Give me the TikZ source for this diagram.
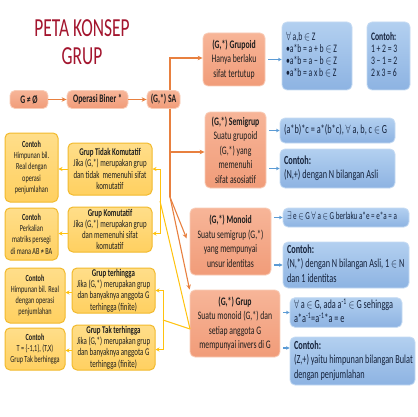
\documentclass[tikz,border=0pt]{standalone}
\usepackage{graphicx}
\usepackage{fontspec}
\setmainfont{Carlito}[FakeStretch=0.67]
\usetikzlibrary{arrows.meta,calc}
\newcommand{\myall}{\scalebox{0.75}[1]{$\forall$}}
\newcommand{\myin}{\scalebox{0.75}[1]{$\in$}}
\newcommand{\myex}{\scalebox{0.75}[1]{$\exists$}}
\newcommand{\lbox}[2]{\makebox[#1][l]{\begin{tabular}{@{}l@{}}#2\end{tabular}}}
\definecolor{titlered}{HTML}{A3152E}
\definecolor{salT}{HTML}{F7B598}
\definecolor{salB}{HTML}{F19C79}
\definecolor{salD}{HTML}{F9CDB8}
\definecolor{bluT}{HTML}{B3D0F0}
\definecolor{bluB}{HTML}{8DB3E2}
\definecolor{bluD}{HTML}{C5DBF3}
\definecolor{yelT}{HTML}{FFDE8A}
\definecolor{yelB}{HTML}{FFD060}
\definecolor{yelD}{HTML}{F2BA2C}
\definecolor{orA}{HTML}{E8803F}
\definecolor{blA}{HTML}{5B9BD5}
\definecolor{yeA}{HTML}{FFC20E}
\definecolor{txt}{HTML}{1E1E1E}
\definecolor{txtb}{HTML}{15223B}
\begin{document}
\begin{tikzpicture}[x=1pt,y=-1pt,
  sal/.style={rounded corners=5pt, top color=salT, bottom color=salB, draw=salD, line width=0.8pt, align=center, inner sep=1pt, text=txt, font=\fontsize{11.5}{14.5}\selectfont},
  blu/.style={rounded corners=5pt, top color=bluT, bottom color=bluB, draw=bluD, line width=0.8pt, inner xsep=4pt, inner ysep=1pt, text=txtb, font=\fontsize{12.3}{14.5}\selectfont},
  yel/.style={rounded corners=5pt, top color=yelT, bottom color=yelB, draw=yelD, line width=1pt, align=center, inner sep=0.5pt, text=txt, font=\fontsize{10.3}{11.2}\selectfont},
  ycon/.style={yel, font=\fontsize{9.3}{11.3}\selectfont},
  sz/.style 2 args={minimum width=#1, minimum height=#2},
  hb/.style={font=\fontsize{11.5}{13}\selectfont\bfseries},
  oarr/.style={draw=orA, line width=1.1pt, -{Stealth[length=5pt,width=4.5pt]}},
  oln/.style={draw=orA, line width=1.1pt},
  barr/.style={draw=blA, line width=1.2pt, -{Stealth[length=3.5pt,width=3.5pt]}, shorten <=3pt},
  yarr/.style={draw=yeA, line width=1pt, -{Stealth[length=4pt,width=4pt]}},
  yln/.style={draw=yeA, line width=1pt}
]
\fill[white] (0,0) rectangle (417,417);
\useasboundingbox (0,0) rectangle (417,417);

\node[font=\fontsize{26}{28}\selectfont, text=titlered, align=center] (title) at (82,42) {PETA KONSEP\\GRUP};

% row 1
\node[sal, sz={38}{18}, hb] (g0) at (29,99.5) {G ≠ Ø};
\node[sal, sz={61}{18}, hb] (biner) at (97.5,99.5) {Operasi Biner *};
\node[sal, sz={33}{18}, hb] (sa) at (163.5,99.5) {(G,*) SA};

% grupoid
\node[sal, sz={62}{53}] (grupoid) at (234,59.5) {\textbf{(G,*) Grupoid}\\Hanya berlaku\\sifat tertutup};
\node[blu, minimum height=68, font=\fontsize{11.5}{11.8}\selectfont] (gblue) at (317,56) {\lbox{62pt}{\myall{} a,b \myin{} Z\\•a*b = a + b \myin{} Z\\•a*b = a − b \myin{} Z\\•a*b = a x b \myin{} Z}};
\node[blu, minimum height=68, font=\fontsize{11.5}{11.8}\selectfont] (gcont) at (388.5,56) {\lbox{35pt}{\textbf{Contoh:}\\1 + 2 = 3\\3 − 1 = 2\\2 x 3 = 6}};

% semigrup
\node[sal, sz={61}{76}] (semi) at (235.5,150) {\textbf{(G,*) Semigrup}\\Suatu grupoid\\(G,*) yang\\memenuhi\\sifat asosiatif};
\node[blu, minimum height=25] (sb1) at (337.5,130.5) {\lbox{107pt}{(a*b)*c = a*(b*c), \myall{} a, b, c \myin{} G}};
\node[blu, minimum height=39] (sb2) at (337.5,168.5) {\lbox{107pt}{\textbf{Contoh:}\\(N,+) dengan N bilangan Asli}};

% monoid
\node[sal, sz={81}{67}] (monoid) at (230.5,241.5) {\textbf{(G,*) Monoid}\\Suatu semigrup (G,*)\\yang mempunyai\\unsur identitas};
\node[blu, minimum height=19, font=\fontsize{10.6}{11}\selectfont] (mb1) at (346,217.5) {\lbox{118pt}{\myex{} e \myin{} G \myall{} a \myin{} G berlaku a*e = e*a = a}};
\node[blu, minimum height=46] (mb2) at (346,265) {\lbox{118pt}{\textbf{Contoh:}\\(N,*) dengan N bilangan Asli, 1 \myin{} $\mathrm{N}$\\dan 1 identitas}};

% grup
\node[sal, sz={90}{67}] (grup) at (235,323.5) {\textbf{(G,*) Grup}\\Suatu monoid (G,*) dan\\setiap anggota G\\mempunyai invers di G};
\node[blu, minimum height=29, font=\fontsize{12.3}{13}\selectfont] (gb1) at (346,312.5) {\lbox{104pt}{\myall{} a \myin{} G, ada a\textsuperscript{-1} \myin{} G sehingga\\a*a\textsuperscript{-1}=a\textsuperscript{-1}*a = e}};
\node[blu, minimum height=48] (gb2) at (352.5,361) {\lbox{117pt}{\textbf{Contoh:}\\(Z,+) yaitu himpunan bilangan Bulat\\dengan penjumlahan}};

% yellow
\node[ycon, sz={53}{69}] (c1) at (31.5,167.5) {\textbf{Contoh}\\Himpunan bil.\\Real dengan\\operasi\\penjumlahan};
\node[yel, sz={84}{52}] (gtk) at (110,169) {\textbf{Grup Tidak Komutatif}\\Jika (G,*) merupakan grup\\dan tidak\ \ memenuhi sifat\\komutatif};
\node[yel, sz={84}{45}] (gk) at (110,229.5) {\textbf{Grup Komutatif}\\Jika (G,*) merupakan grup\\dan memenuhi sifat\\komutatif};
\node[ycon, sz={53}{52}] (c2) at (31.5,234) {\textbf{Contoh}\\Perkalian\\matriks persegi\\di mana AB ≠ BA};
\node[yel, sz={83}{45}] (gth) at (113.5,290.5) {\textbf{Grup terhingga}\\Jika (G,*) merupakan grup\\dan banyaknya anggota G\\terhingga (finite)};
\node[ycon, sz={60}{55}] (c3) at (35,295.5) {\textbf{Contoh}\\Himpunan bil. Real\\dengan operasi\\penjumlahan};
\node[yel, sz={83}{45}] (gtt) at (113.5,347.5) {\textbf{Grup Tak terhingga}\\Jika (G,*) merupakan grup\\dan banyaknya anggota G\\terhingga (finite)};
\node[ycon, sz={60}{42}] (c4) at (35,349) {\textbf{Contoh}\\T = \{-1,1\}, (T,X)\\Grup Tak berhingga};

% orange connectors
\draw[oarr] (g0) -- (biner);
\draw[oarr] (biner) -- (sa);
\draw[oarr] ([xshift=6.5pt]sa.north) |- ([yshift=1.5pt]grupoid.west);
\coordinate (jn) at (170,197);
\draw[oln] ([xshift=6.5pt]sa.south) -- (jn);
\draw[oarr] ([xshift=6.5pt]sa.south) |- ([yshift=-2pt]semi.west);
\draw[oarr] (jn) -- ([xshift=-3pt,yshift=3pt]monoid.west);
\draw[oarr] (jn) -- (grup.north west);

% blue arrows
\draw[barr] (grupoid.east) -- (grupoid.east -| gblue.west);
\draw[barr] (sb1.west -| semi.east) -- (sb1.west);
\draw[barr] (sb2.west -| semi.east) -- (sb2.west);
\draw[barr] (mb1.west -| monoid.east) -- (mb1.west);
\draw[barr] (mb2.west -| monoid.east) -- (mb2.west);
\draw[barr] (gb1.west -| grup.east) -- (gb1.west);
\draw[barr] ([yshift=13pt]gb2.west -| grup.east) -- ([yshift=13pt]gb2.west);

% yellow connectors
\coordinate (gj) at (190,329);
\coordinate (ym1) at (160,201);
\coordinate (ym2) at (163,320);
\draw[yarr] (ym1) |- (gtk.east);
\draw[yarr] (ym1) |- ([yshift=-4pt]gk.east);
\draw[yln] (ym1) -- (gj);
\draw[yarr] (ym2) |- (gth.east);
\draw[yarr] (ym2) |- ([yshift=-2pt]gtt.east);
\draw[yln] (ym2) -- (gj);
\draw[yarr] (gtk.west) -- (gtk.west -| c1.east);
\draw[yarr] ([yshift=-4pt]gk.west) -- ([yshift=-4pt]gk.west -| c2.east);
\draw[yarr] ([yshift=-2pt]gth.west) -- ([yshift=-2pt]gth.west -| c3.east);
\draw[yarr] ([yshift=-3pt]gtt.west) -- ([yshift=-3pt]gtt.west -| c4.east);
\end{tikzpicture}
\end{document}
